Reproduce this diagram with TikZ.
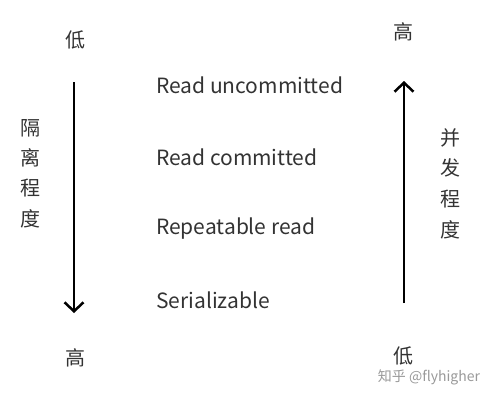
\documentclass[tikz,border=0pt]{standalone}
\usepackage{fontspec}
\setmainfont{Noto Sans CJK SC}
\usepackage{tikz}
\usetikzlibrary{arrows.meta}

\begin{document}
\begin{tikzpicture}[x=1pt,y=1pt]
\tikzstyle{every node}+=[inner sep=0pt, text=black!80]
\tikzstyle{level}=[anchor=west, font=\fontsize{21}{25}\selectfont]
\tikzstyle{cjk}=[font=\fontsize{20}{24}\selectfont]
\tikzstyle{axis}=[black, line width=2.5pt, -{Straight Barb[length=9pt, width=19pt, line width=2.5pt]}]
\useasboundingbox (0,0) rectangle (496,-400);
\draw (75,-40) node[cjk] (lowL) {低};
\draw (75,-358) node[cjk] (highL) {高};
\draw (403,-32) node[cjk] (highR) {高};
\draw (403,-356) node[cjk] (lowR) {低};
\draw (30,-128) node[cjk] (isoA) {隔};
\draw (30,-158) node[cjk] (isoB) {离};
\draw (30,-188) node[cjk] (isoC) {程};
\draw (30,-219) node[cjk] (isoD) {度};
\draw (450,-138) node[cjk] (conA) {并};
\draw (450,-168) node[cjk] (conB) {发};
\draw (450,-199) node[cjk] (conC) {程};
\draw (450,-230) node[cjk] (conD) {度};
\draw (156,-85) node[level] (ru) {Read uncommitted};
\draw (156,-157) node[level] (rc) {Read committed};
\draw (156,-229) node[level] (rr) {Repeatable read};
\draw (156,-300) node[level] (sr) {Serializable};
\draw (429,-377) node[font=\fontsize{14}{16}\selectfont, text=black!40] (mark) {知乎 @flyhigher};
\coordinate (isoTop) at (74,-82);
\coordinate (isoEnd) at (74,-313);
\coordinate (conBot) at (404,-303);
\coordinate (conEnd) at (404,-81);
\draw [axis] (isoTop) -- (isoEnd);
\draw [axis] (conBot) -- (conEnd);
\end{tikzpicture}
\end{document}
